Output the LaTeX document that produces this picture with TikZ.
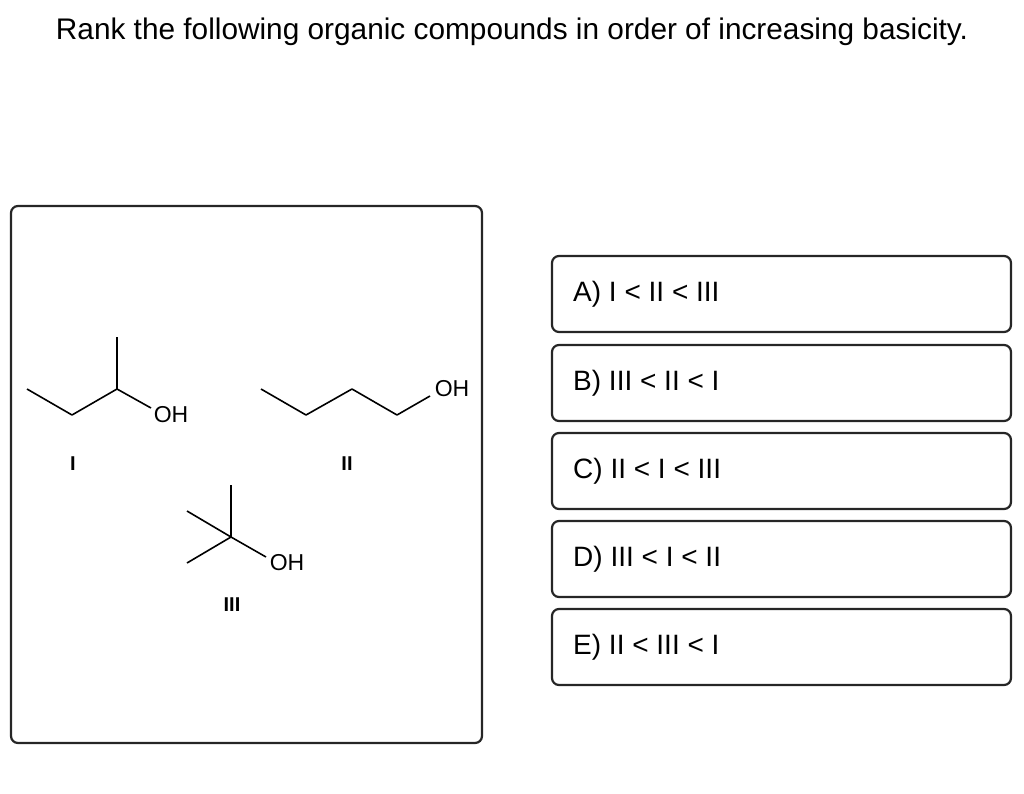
\documentclass[tikz,border=0pt]{standalone}
\usepackage{fontspec}
\setmainfont{Liberation Sans}
\begin{document}
\begin{tikzpicture}[x=1pt,y=-1pt,
  bond/.style={line width=1.6pt,line join=round},
  lbl/.style={inner sep=0pt,font=\fontsize{23}{25}\selectfont},
  roman/.style={inner sep=0pt,font=\bfseries\fontsize{20}{22}\selectfont},
  panel/.style={draw=black!85,line width=2.2pt,rounded corners=7pt},
  opt/.style={inner sep=0pt,anchor=west,font=\fontsize{28}{30}\selectfont}]
\useasboundingbox (0,0) rectangle (1024,794);
\node[inner sep=0pt,font=\fontsize{29.8}{32}\selectfont] (title) at (512,32) {Rank the following organic compounds in order of increasing basicity.};
\draw[panel] (11,206) rectangle (482,743);
% I
\coordinate (a1) at (27,389); \coordinate (a2) at (72,415); \coordinate (a3) at (117,389); \coordinate (a4) at (117,337);
\node[lbl] (oh1) at (171,415) {OH};
\draw[bond] (a1)--(a2)--(a3)--(a4); \draw[bond] (a3)--(151,408);
\node[roman] (r1) at (73,464) {I};
% II
\coordinate (b1) at (261,389); \coordinate (b2) at (306,415); \coordinate (b3) at (352,389); \coordinate (b4) at (397,415);
\node[lbl] (oh2) at (452,389) {OH};
\draw[bond] (b1)--(b2)--(b3)--(b4)--(430,396);
\node[roman] (r2) at (347,464) {II};
% III
\coordinate (c0) at (231,537); \coordinate (c1) at (231,485); \coordinate (c2) at (187,511); \coordinate (c3) at (187,563);
\node[lbl] (oh3) at (287,563) {OH};
\draw[bond] (c1)--(c0); \draw[bond] (c2)--(c0)--(c3); \draw[bond] (c0)--(266,557);
\node[roman] (r3) at (232,605) {III};
% options
\foreach \n/\t/\y in {A/{A) I < II < III}/256,B/{B) III < II < I}/345,C/{C) II < I < III}/433,D/{D) III < I < II}/521,E/{E) II < III < I}/609}{
  \draw[panel] (552,\y) rectangle (1011,\y+76);
  \node[opt] (o\n) at (573,\y+38) {\t};
}
\end{tikzpicture}
\end{document}
